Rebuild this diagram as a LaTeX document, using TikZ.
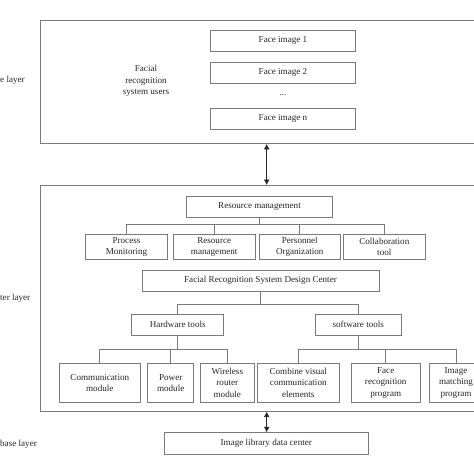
\documentclass[tikz,border=0pt]{standalone}
\usepackage{fontspec}
\setmainfont{Liberation Serif}
\usetikzlibrary{arrows.meta,calc}
\definecolor{boxgray}{HTML}{7A7A7A}
\definecolor{txt}{HTML}{262626}
\tikzset{
  box/.style={draw=boxgray, line width=0.85pt, inner sep=1pt, align=center, text=txt,
    font=\fontsize{9.1}{11.4}\selectfont},
  frame/.style={draw=boxgray, line width=0.9pt, anchor=north west, inner sep=0pt},
  lbl/.style={text=txt, font=\fontsize{9.1}{11.4}\selectfont, align=center, inner sep=0pt},
  link/.style={draw=boxgray, line width=0.85pt},
  arr/.style={draw=black!85, line width=0.8pt, {Latex[length=5.5pt,width=6pt]}-{Latex[length=5.5pt,width=6pt]}}
}
\begin{document}
\begin{tikzpicture}[x=1pt,y=-1pt]
\useasboundingbox (0,0) rectangle (474,474);
\clip (0,0) rectangle (474,474);
\fill[white] (0,0) rectangle (474,474);
% frames
\node[frame, minimum width=445pt, minimum height=123.5pt] (top) at (40,19.5) {};
\node[frame, minimum width=445pt, minimum height=225.7pt] (mid) at (40,185) {};
% layer labels
\node[lbl, anchor=west] (l1) at (0,80) {e layer};
\node[lbl, anchor=west] (l2) at (0,298.3) {ter layer};
\node[lbl, anchor=west] (l3) at (0,444) {base layer};
% top layer
\node[lbl] (users) at (146,81) {Facial\\recognition\\system users};
\node[box, minimum width=145.7pt, minimum height=21pt] (f1) at (283,40.5) {Face image 1};
\node[box, minimum width=145.7pt, minimum height=21pt] (f2) at (283,72.5) {Face image 2};
\node[lbl] (dots) at (283,95) {...};
\node[box, minimum width=145.7pt, minimum height=21pt] (fn) at (283,118.5) {Face image n};
% middle layer
\node[box, minimum width=145.6pt, minimum height=21pt] (rm) at (259.5,206.5) {Resource management};
\node[box, minimum width=81.6pt, minimum height=25.7pt] (pm) at (126.5,247) {Process\\Monitoring};
\node[box, minimum width=81.6pt, minimum height=25.7pt] (rm2) at (214.2,247) {Resource\\management};
\node[box, minimum width=81.6pt, minimum height=25.7pt] (po) at (299.8,247) {Personnel\\Organization};
\node[box, minimum width=81.3pt, minimum height=25.7pt] (ct) at (384.3,247) {Collaboration\\tool};
\node[box, minimum width=237pt, minimum height=21pt] (frs) at (260.5,280.5) {Facial Recognition System Design Center};
\node[box, minimum width=92pt, minimum height=21pt] (hw) at (177.7,324.8) {Hardware tools};
\node[box, minimum width=85.3pt, minimum height=21pt] (sw) at (358.3,324.8) {software tools};
\node[box, minimum width=81.7pt, minimum height=39pt] (cm) at (99.8,382.8) {Communication\\module};
\node[box, minimum width=46pt, minimum height=39pt] (pw) at (170.7,382.8) {Power\\module};
\node[box, minimum width=54pt, minimum height=39pt] (wr) at (227.3,382.8) {Wireless\\router\\module};
\node[box, minimum width=82pt, minimum height=39pt] (cv) at (298.3,382.8) {Combine visual\\communication\\elements};
\node[box, minimum width=68.7pt, minimum height=39pt] (fr) at (385.7,382.8) {Face\\recognition\\program};
\node[box, minimum width=54pt, minimum height=39pt] (im) at (456,382.8) {Image\\matching\\program};
% bottom layer
\node[box, minimum width=203.3pt, minimum height=21.6pt] (db) at (266.3,443.5) {Image library data center};
% tree links
\foreach \c in {pm,rm2,po,ct} \draw[link] (rm.south) -- ++(0,6.8) -| (\c.north);
\foreach \c in {hw,sw} \draw[link] (frs.south) -- ++(0,13.3) -| (\c.north);
\foreach \c in {cm,pw,wr} \draw[link] (hw.south) -- ++(0,13.4) -| (\c.north);
\foreach \c in {cv,fr,im} \draw[link] (sw.south) -- ++(0,13.4) -| (\c.north);
% arrows
\draw[arr] ([xshift=0.4pt]top.south -| db.center) -- ([xshift=0.4pt]mid.north -| db.center);
\draw[arr] ([xshift=0.4pt]mid.south -| db.center) -- ([xshift=0.4pt]db.north);
\end{tikzpicture}
\end{document}
